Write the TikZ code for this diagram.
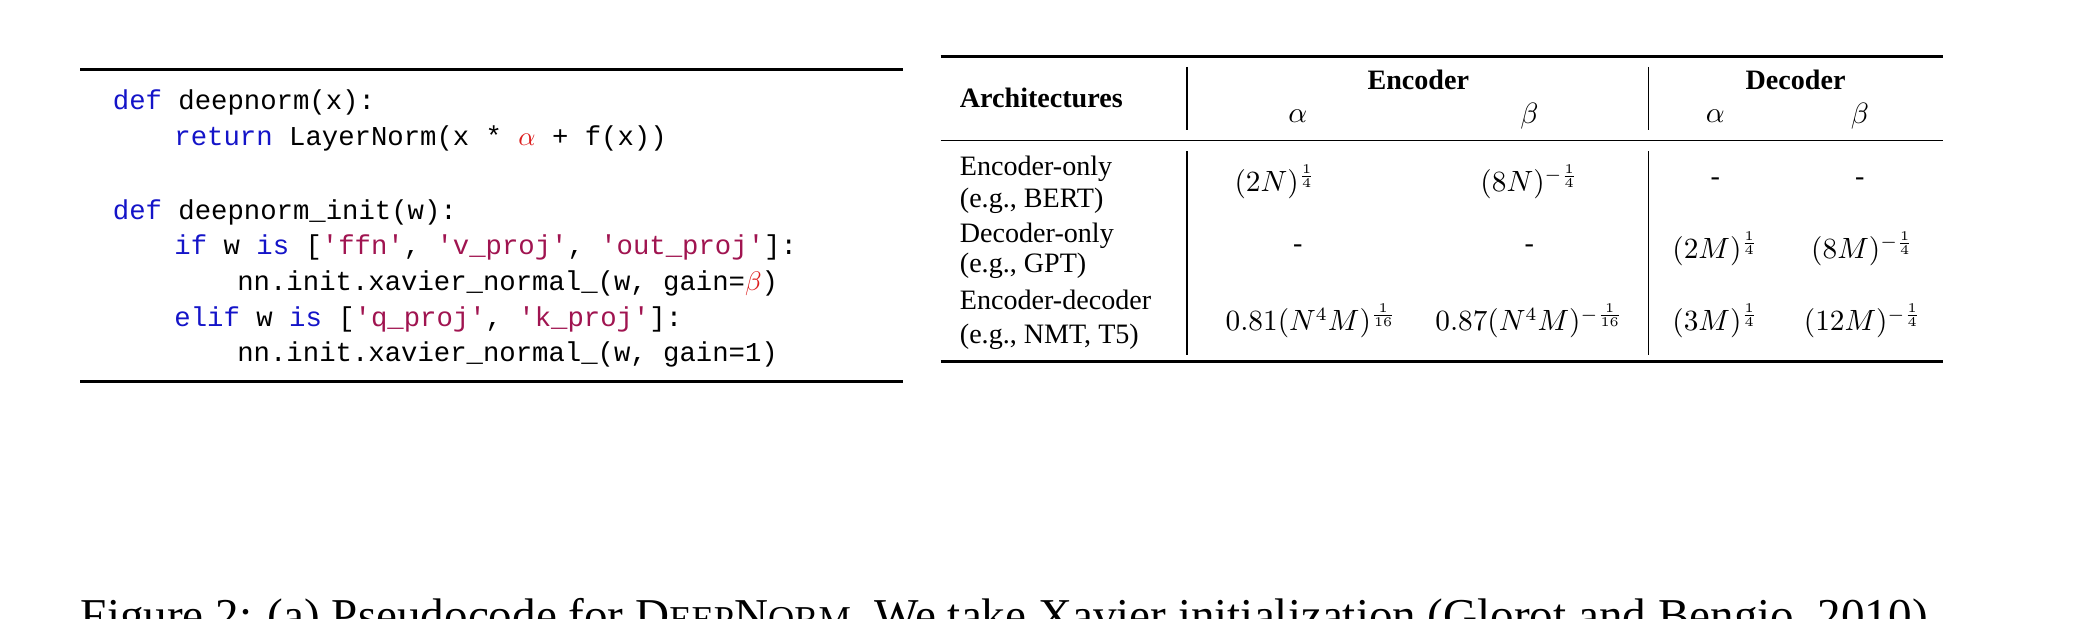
\documentclass[tikz,border=0pt]{standalone}
\usepackage{fontspec}
\setmainfont{Liberation Serif}
\newfontfamily\codefont{Liberation Mono}
\newcommand{\smc}[1]{{\fontsize{13.6}{16}\selectfont #1}}
\begin{document}
\definecolor{kw}{RGB}{20,20,200}
\definecolor{str}{RGB}{160,20,80}
\definecolor{gr}{RGB}{220,30,30}
\begin{tikzpicture}[x=0.5pt,y=-0.5pt,
 code/.style={anchor=base west,inner sep=0,font=\codefont\fontsize{10.2}{12}\selectfont},
 tab/.style={inner sep=0,font=\fontsize{10.5}{12}\selectfont},
 tabl/.style={tab,anchor=base west},
 captxt/.style={anchor=base west,inner sep=0,font=\fontsize{17.6}{20}\selectfont},
 rule/.style={line width=1pt},
 vr/.style={line width=0.6pt}]
\useasboundingbox (0,0) rectangle (1568,462);
% code
\draw[rule] (60,52) -- (675,52);
\draw[rule] (60,285) -- (675,285);
\node[code] (c1) at (84,82) {\textcolor{kw}{def} deepnorm(x):};
\node[code] (c2) at (130,109) {\textcolor{kw}{return} LayerNorm(x * \textcolor{gr}{$\alpha$} + f(x))};
\node[code] (c3) at (84,164) {\textcolor{kw}{def} deepnorm\_init(w):};
\node[code] (c4) at (130,190) {\textcolor{kw}{if} w \textcolor{kw}{is} [\textcolor{str}{'ffn'}, \textcolor{str}{'v\_proj'}, \textcolor{str}{'out\_proj'}]:};
\node[code] (c5) at (177,217) {nn.init.xavier\_normal\_(w, gain=\textcolor{gr}{$\beta$})};
\node[code] (c6) at (130,244) {\textcolor{kw}{elif} w \textcolor{kw}{is} [\textcolor{str}{'q\_proj'}, \textcolor{str}{'k\_proj'}]:};
\node[code] (c7) at (177,270) {nn.init.xavier\_normal\_(w, gain=1)};
% table
\draw[rule] (703,42) -- (1452,42);
\draw[vr] (703,105) -- (1452,105);
\draw[rule] (703,270) -- (1452,270);
\draw[vr] (887,50) -- (887,97) (887,113) -- (887,265);
\draw[vr] (1232,50) -- (1232,97) (1232,113) -- (1232,265);
\node[tabl] (h0) at (717,80) {\textbf{Architectures}};
\node[tab] (h1) at (1060,60) {\textbf{Encoder}};
\node[tab] (h2) at (1342,60) {\textbf{Decoder}};
\node[tab] (h3) at (970,87) {$\alpha$};
\node[tab] (h4) at (1143,87) {$\beta$};
\node[tab] (h5) at (1282,87) {$\alpha$};
\node[tab] (h6) at (1390,87) {$\beta$};
\node[tabl] (r1a) at (717,131) {Encoder-only};
\node[tabl] (r1b) at (717,155) {(e.g., BERT)};
\node[tabl] (r2a) at (717,181) {Decoder-only};
\node[tabl] (r2b) at (717,204) {(e.g., GPT)};
\node[tabl] (r3a) at (717,231) {Encoder-decoder};
\node[tabl] (r3b) at (717,257) {(e.g., NMT, T5)};
\node[tab] (v11) at (953,136) {$(2N)^{\frac14}$};
\node[tab] (v12) at (1143,136) {$(8N)^{-\frac14}$};
\node[tab] (v13) at (1282,136) {-};
\node[tab] (v14) at (1390,136) {-};
\node[tab] (v21) at (970,186) {-};
\node[tab] (v22) at (1143,186) {-};
\node[tab] (v23) at (1282,186) {$(2M)^{\frac14}$};
\node[tab] (v24) at (1392,186) {$(8M)^{-\frac14}$};
\node[tab] (v31) at (980,240) {$0.81(N^4M)^{\frac1{16}}$};
\node[tab] (v32) at (1143,240) {$0.87(N^4M)^{-\frac1{16}}$};
\node[tab] (v33) at (1282,240) {$(3M)^{\frac14}$};
\node[tab] (v34) at (1392,240) {$(12M)^{-\frac14}$};
% caption
\node[captxt] (l1) at (60,472) {Figure 2: (a) Pseudocode for D\smc{EEP}N\smc{ORM}. We take Xavier initialization (Glorot and Bengio, 2010)};
\node[captxt] (l2) at (60,513) {as an example, and it can be replaced with other standard initialization. Notice that $\alpha$ is a constant.};
\node[captxt] (l3) at (60,555) {(b) Parameters of D\smc{EEP}N\smc{ORM} for different architectures ($N$-layer encoder, $M$-layer decoder).};
\node[anchor=base west,inner sep=0,text=gray!60,opacity=0.8,font=\fontsize{16}{20}\selectfont] (wm) at (1412,512) {\fontspec{Noto Sans CJK SC}知乎 \fontspec{Liberation Sans}@phynlp};
\end{tikzpicture}
\end{document}
